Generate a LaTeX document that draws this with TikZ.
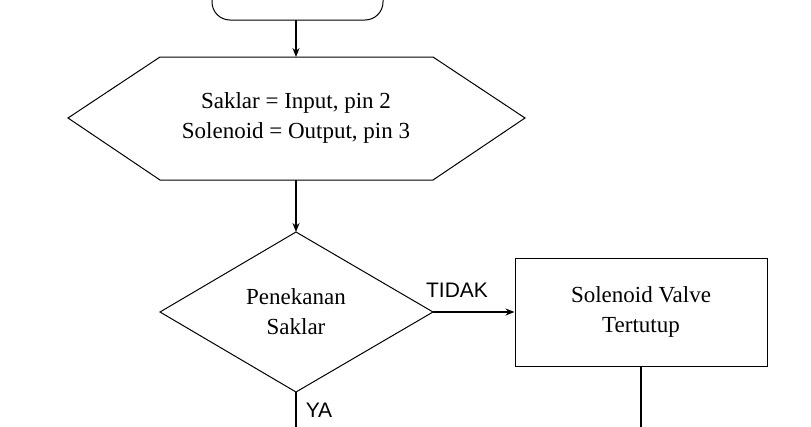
\documentclass[tikz,border=0pt]{standalone}
\usepackage{fontspec}
\setmainfont{Liberation Serif}
\newfontfamily\sansf{Liberation Sans}
\usetikzlibrary{arrows.meta}
\tikzset{
  outl/.style={draw, line width=1pt},
  flow/.style={draw, line width=1.6pt, -{Stealth[length=9pt,width=7pt]}},
  lbl/.style={font=\fontsize{23}{30}\selectfont, align=center},
  yn/.style={font=\sansf\fontsize{21}{24}\selectfont}
}
\begin{document}
\begin{tikzpicture}[x=1pt,y=-1pt]
\useasboundingbox (0,0) rectangle (811,426);
\clip (0,0) rectangle (811,426);
\draw[outl, rounded corners=18pt] (212,-40) rectangle (383,20);
\coordinate (start) at (296,20);
\draw[outl] (68,118) -- (160,57) -- (433,57) -- (525,118) -- (433,180) -- (160,180) -- cycle;
\node[lbl] (hex) at (296,118) {Saklar = Input, pin 2\\Solenoid = Output, pin 3};
\coordinate (hexT) at (296,57);
\coordinate (hexB) at (296,180);
\draw[outl] (296,232) -- (433,312) -- (296,392) -- (160,312) -- cycle;
\node[lbl] (dia) at (296,312) {Penekanan\\Saklar};
\coordinate (diaT) at (296,232);
\coordinate (diaR) at (433,312);
\coordinate (diaB) at (296,392);
\node[outl, lbl, minimum width=252pt, minimum height=108pt] (box) at (641,312) {Solenoid Valve\\Tertutup};
\coordinate (yaEnd) at (296,430);
\coordinate (boxEnd) at (641,430);
\draw[flow] (start) -- (hexT);
\draw[flow] (hexB) -- (diaT);
\draw[flow] (diaR) -- (box.west);
\node[yn] (tidak) at (457,290) {TIDAK};
\draw[flow, -] (diaB) -- (yaEnd);
\node[yn] (ya) at (319,410) {YA};
\draw[flow, -] (box.south) -- (boxEnd);
\end{tikzpicture}
\end{document}
